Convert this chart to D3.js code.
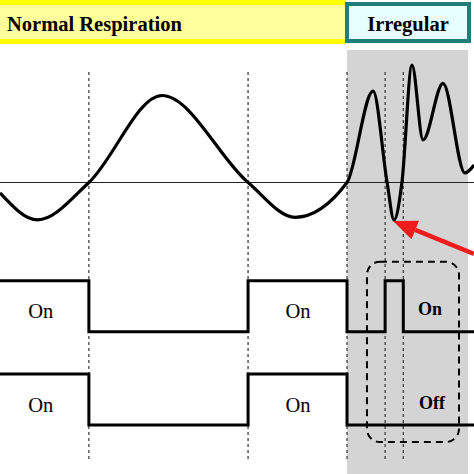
<!DOCTYPE html>
<html>
<head>
<meta charset="utf-8">
<script src="https://cdn.jsdelivr.net/npm/d3@7"></script>
<style>
  body { margin: 0; background: #fff; }
  svg { display: block; }
  text { font-family: "Liberation Serif", "Times New Roman", serif; fill: #000; }
</style>
</head>
<body>
<svg id="chart" width="474" height="474"></svg>
<script>
// respiration signal (time in arbitrary units, amplitude relative to baseline)
var respTime  = [0, 1.9, 4.5, 8.2, 12.56, 14.94, 17.57, 18.89, 19.6, 19.95, 20.35, 20.86, 21.42, 22.43, 23.54, 24];
var respValue = [-0.12, -0.43, 0, 1.0, 0, -0.40, 0, 1.05, 0, -0.43, 0, 1.35, 0.49, 1.14, 0.11, 0.2];

// two on/off signals
var waveATime = [0, 4.5, 12.56, 17.57, 19.5, 20.42, 24];
var waveAOn   = [1, 0, 1, 0, 1, 0, 0];
var waveBTime = [0, 4.5, 12.56, 17.57, 24];
var waveBOn   = [1, 0, 1, 0, 0];

var markerTimes = [4.5, 12.56, 17.57, 19.5, 20.42];
var irregularStart = 17.57, irregularEnd = 23.7;

var labelsA = [{ t: 2.06, text: "On", bold: false }, { t: 15.09, text: "On", bold: false }, { t: 21.77, text: "On", bold: true }];
var labelsB = [{ t: 2.06, text: "On", bold: false }, { t: 15.09, text: "On", bold: false }, { t: 21.87, text: "Off", bold: true }];

var W = 474, H = 474;
var svg = d3.select("#chart");

var x = d3.scaleLinear().domain([0, 24]).range([0, W]);
var y = d3.scaleLinear().domain([-0.5, 1.5]).range([226, 52]);
var yA = d3.scaleLinear().domain([0, 1]).range([331.7, 280.7]);
var yB = d3.scaleLinear().domain([0, 1]).range([425, 374]);

// gray irregular zone
svg.append("rect")
  .attr("x", x(irregularStart)).attr("y", 50)
  .attr("width", x(irregularEnd) - x(irregularStart)).attr("height", H - 50)
  .attr("fill", "#d4d4d4");

// header banner
svg.append("rect").attr("x", 0).attr("y", 0).attr("width", 346).attr("height", 44).attr("fill", "#ffff00");
svg.append("rect").attr("x", 0).attr("y", 5).attr("width", 346).attr("height", 34).attr("fill", "#ffff9c");
svg.append("text").attr("x", 7).attr("y", 31)
  .style("font-size", "20.5px").style("font-weight", "bold")
  .text("Normal Respiration");

svg.append("rect").attr("x", 347).attr("y", 4).attr("width", 122).attr("height", 37)
  .attr("fill", "#e8ffff").attr("stroke", "#1f7d7a").attr("stroke-width", 4);
svg.append("text").attr("x", 408).attr("y", 30.5).attr("text-anchor", "middle")
  .style("font-size", "20.5px").style("font-weight", "bold")
  .text("Irregular");

// baseline
svg.append("line")
  .attr("x1", 0).attr("x2", W).attr("y1", y(0)).attr("y2", y(0))
  .attr("stroke", "#222").attr("stroke-width", 1.2);

// dashed markers
svg.selectAll(".marker").data(markerTimes).enter().append("line")
  .attr("class", "marker")
  .attr("x1", function (d) { return x(d); }).attr("x2", function (d) { return x(d); })
  .attr("y1", 72).attr("y2", 459)
  .attr("stroke", "#333").attr("stroke-width", 1.2).attr("stroke-dasharray", "3,3");

// respiration curve
var respData = respTime.map(function (t, i) { return { t: t, v: respValue[i] }; });
var respLine = d3.line()
  .x(function (d) { return x(d.t); })
  .y(function (d) { return y(d.v); })
  .curve(d3.curveMonotoneX);
svg.append("path").datum(respData)
  .attr("d", respLine)
  .attr("fill", "none").attr("stroke", "#000").attr("stroke-width", 3.2);

// on/off waves
function drawWave(times, ons, ys) {
  var data = times.map(function (t, i) { return { t: t, on: ons[i] }; });
  var line = d3.line()
    .x(function (d) { return x(d.t); })
    .y(function (d) { return ys(d.on); })
    .curve(d3.curveStepAfter);
  svg.append("path").datum(data)
    .attr("d", line)
    .attr("fill", "none").attr("stroke", "#000").attr("stroke-width", 3);
}
drawWave(waveATime, waveAOn, yA);
drawWave(waveBTime, waveBOn, yB);

function drawLabels(labels, ys) {
  svg.selectAll(null).data(labels).enter().append("text")
    .attr("x", function (d) { return x(d.t); })
    .attr("y", function (d) { return d.bold ? ys(0.5) + 9 : ys(0.5) + 12; })
    .attr("text-anchor", "middle")
    .style("font-size", function (d) { return d.bold ? "18px" : "20.5px"; })
    .style("font-weight", function (d) { return d.bold ? "bold" : "normal"; })
    .text(function (d) { return d.text; });
}
drawLabels(labelsA, yA);
drawLabels(labelsB, yB);

// dashed rounded box around irregular switching
var boxX0 = x(18.58), boxX1 = x(23.24);
svg.append("rect")
  .attr("x", boxX0).attr("y", yA(1) - 19)
  .attr("width", boxX1 - boxX0).attr("height", yB(0) + 17 - (yA(1) - 19))
  .attr("rx", 13).attr("ry", 13)
  .attr("fill", "none").attr("stroke", "#000").attr("stroke-width", 2)
  .attr("stroke-dasharray", "7,5");

// red arrow pointing at the irregular dip
var tip = [x(respTime[9]) - 1, y(respValue[9]) + 1];
var tail = [x(24), y(-0.82)];
var ang = Math.atan2(tip[1] - tail[1], tip[0] - tail[0]);
var headLen = 24, headHalf = 10;
var base = [tip[0] - headLen * Math.cos(ang), tip[1] - headLen * Math.sin(ang)];
svg.append("line")
  .attr("x1", tail[0]).attr("y1", tail[1]).attr("x2", base[0]).attr("y2", base[1])
  .attr("stroke", "#ee1c1c").attr("stroke-width", 4.5);
svg.append("polygon")
  .attr("points", [
    tip,
    [base[0] + headHalf * Math.sin(ang), base[1] - headHalf * Math.cos(ang)],
    [base[0] - headHalf * Math.sin(ang), base[1] + headHalf * Math.cos(ang)]
  ].map(function (p) { return p.join(","); }).join(" "))
  .attr("fill", "#ee1c1c");
</script>
</body>
</html>
